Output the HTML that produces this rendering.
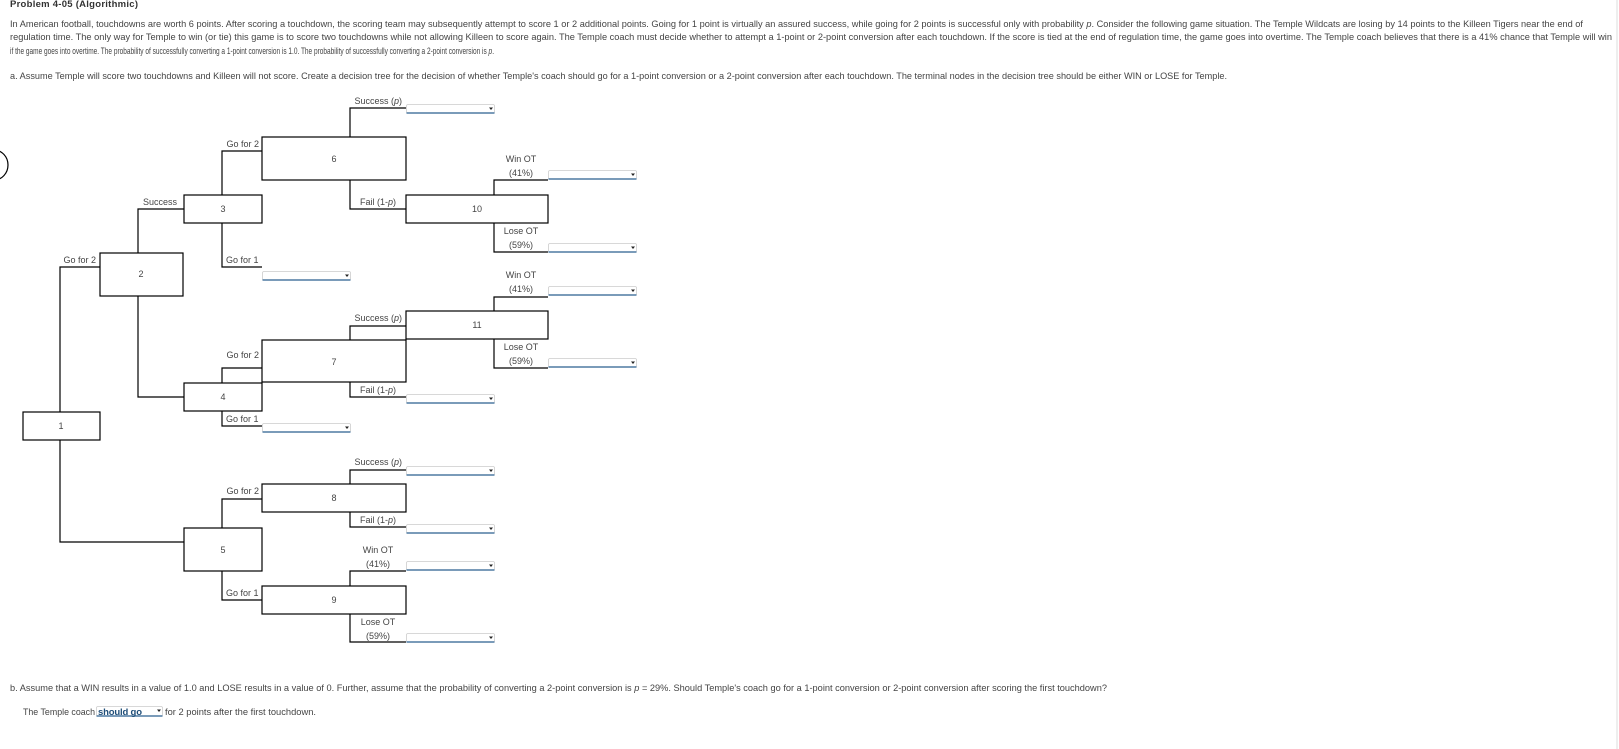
<!DOCTYPE html>
<html><head><meta charset="utf-8"><style>
html,body{margin:0;padding:0;background:#fff;}
svg{display:block;}
text{font-family:"Liberation Sans","DejaVu Sans",sans-serif;font-size:9px;fill:#444;}
.t{font-size:9.5px;}
.b{stroke:#000;stroke-width:1.2;fill:#fff;}
.l{stroke:#000;stroke-width:1.2;fill:none;}
</style></head><body>
<svg width="1619" height="749" viewBox="0 0 1619 749" xmlns="http://www.w3.org/2000/svg">
<defs>
<g id="dd">
<rect x="0.5" y="0.5" width="88" height="8.5" rx="1.5" fill="#fff" stroke="#ccc" stroke-width="0.8"/>
<line x1="0.5" y1="9" x2="88.5" y2="9" stroke="#2a5f8f" stroke-width="1.2"/>
<path d="M83,3.5 L87,3.5 L85,6 Z" fill="#222"/>
</g>
</defs>
<line x1="1617" y1="0" x2="1617" y2="749" stroke="#ddd" stroke-width="1"/>
<text x="10" y="7" class="t" style="font-weight:bold;fill:#333" textLength="128">Problem 4-05 (Algorithmic)</text>
<text class="t" x="10" y="27" textLength="1573" lengthAdjust="spacingAndGlyphs">In American football, touchdowns are worth 6 points. After scoring a touchdown, the scoring team may subsequently attempt to score 1 or 2 additional points. Going for 1 point is virtually an assured success, while going for 2 points is successful only with probability <tspan font-style="italic">p</tspan>. Consider the following game situation. The Temple Wildcats are losing by 14 points to the Killeen Tigers near the end of</text>
<text class="t" x="10" y="40" textLength="1602" lengthAdjust="spacingAndGlyphs">regulation time. The only way for Temple to win (or tie) this game is to score two touchdowns while not allowing Killeen to score again. The Temple coach must decide whether to attempt a 1-point or 2-point conversion after each touchdown. If the score is tied at the end of regulation time, the game goes into overtime. The Temple coach believes that there is a 41% chance that Temple will win</text>
<text class="t" x="10" y="54" textLength="484" lengthAdjust="spacingAndGlyphs">if the game goes into overtime. The probability of successfully converting a 1-point conversion is 1.0. The probability of successfully converting a 2-point conversion is <tspan font-style="italic">p</tspan>.</text>
<text class="t" x="10" y="79" textLength="1217" lengthAdjust="spacingAndGlyphs">a. Assume Temple will score two touchdowns and Killeen will not score. Create a decision tree for the decision of whether Temple's coach should go for a 1-point conversion or a 2-point conversion after each touchdown. The terminal nodes in the decision tree should be either WIN or LOSE for Temple.</text>

<path d="M0,150 A14,15 0 0 1 0,180" class="l" stroke="#222" transform="translate(-6,0)"/>

<path class="l" d="M60,412 V267 H100"/>
<path class="l" d="M60,440 V542 H184"/>
<path class="l" d="M138,253 V209 H184"/>
<path class="l" d="M138,296 V397 H184"/>
<path class="l" d="M222,195 V151 H262"/>
<path class="l" d="M222,223 V267 H262"/>
<path class="l" d="M222,383 V368 H262"/>
<path class="l" d="M222,411 V426 H262"/>
<path class="l" d="M222,528 V499 H262"/>
<path class="l" d="M222,571 V600 H262"/>
<path class="l" d="M350,137 V108 H406"/>
<path class="l" d="M350,180 V209 H406"/>
<path class="l" d="M350,340 V326 H406"/>
<path class="l" d="M350,382 V397 H406"/>
<path class="l" d="M350,484 V470 H406"/>
<path class="l" d="M350,512 V527 H406"/>
<path class="l" d="M350,586 V571 H406"/>
<path class="l" d="M350,614 V642 H406"/>
<path class="l" d="M494,195 V180 H548"/>
<path class="l" d="M494,223 V252 H548"/>
<path class="l" d="M494,311 V297 H548"/>
<path class="l" d="M494,339 V368 H548"/>

<rect class="b" x="23" y="412" width="77" height="28"/><text x="61" y="429" text-anchor="middle">1</text>
<rect class="b" x="100" y="253" width="83" height="43"/><text x="141" y="277" text-anchor="middle">2</text>
<rect class="b" x="184" y="195" width="78" height="28"/><text x="223" y="212" text-anchor="middle">3</text>
<rect class="b" x="184" y="383" width="78" height="28"/><text x="223" y="400" text-anchor="middle">4</text>
<rect class="b" x="184" y="528" width="78" height="43"/><text x="223" y="553" text-anchor="middle">5</text>
<rect class="b" x="262" y="137" width="144" height="43"/><text x="334" y="162" text-anchor="middle">6</text>
<rect class="b" x="262" y="340" width="144" height="42"/><text x="334" y="365" text-anchor="middle">7</text>
<rect class="b" x="262" y="484" width="144" height="28"/><text x="334" y="501" text-anchor="middle">8</text>
<rect class="b" x="262" y="586" width="144" height="28"/><text x="334" y="603" text-anchor="middle">9</text>
<rect class="b" x="406" y="195" width="142" height="28"/><text x="477" y="212" text-anchor="middle">10</text>
<rect class="b" x="406" y="311" width="142" height="28"/><text x="477" y="328" text-anchor="middle">11</text>

<text x="96" y="263" text-anchor="end">Go for 2</text>
<text x="177" y="205" text-anchor="end">Success</text>
<text x="259" y="147" text-anchor="end">Go for 2</text>
<text x="226" y="263">Go for 1</text>
<text x="259" y="358" text-anchor="end">Go for 2</text>
<text x="226" y="422">Go for 1</text>
<text x="259" y="494" text-anchor="end">Go for 2</text>
<text x="226" y="596">Go for 1</text>
<text x="402" y="104" text-anchor="end">Success (<tspan font-style="italic">p</tspan>)</text>
<text x="360" y="205">Fail (1-<tspan font-style="italic">p</tspan>)</text>
<text x="402" y="321" text-anchor="end">Success (<tspan font-style="italic">p</tspan>)</text>
<text x="360" y="393">Fail (1-<tspan font-style="italic">p</tspan>)</text>
<text x="402" y="465" text-anchor="end">Success (<tspan font-style="italic">p</tspan>)</text>
<text x="360" y="523">Fail (1-<tspan font-style="italic">p</tspan>)</text>
<text x="378" y="553" text-anchor="middle">Win OT</text>
<text x="378" y="567" text-anchor="middle">(41%)</text>
<text x="378" y="625" text-anchor="middle">Lose OT</text>
<text x="378" y="639" text-anchor="middle">(59%)</text>
<text x="521" y="162" text-anchor="middle">Win OT</text>
<text x="521" y="176" text-anchor="middle">(41%)</text>
<text x="521" y="234" text-anchor="middle">Lose OT</text>
<text x="521" y="248" text-anchor="middle">(59%)</text>
<text x="521" y="278" text-anchor="middle">Win OT</text>
<text x="521" y="292" text-anchor="middle">(41%)</text>
<text x="521" y="350" text-anchor="middle">Lose OT</text>
<text x="521" y="364" text-anchor="middle">(59%)</text>

<use href="#dd" x="406" y="104"/>
<use href="#dd" x="262" y="271"/>
<use href="#dd" x="262" y="423"/>
<use href="#dd" x="406" y="394"/>
<use href="#dd" x="406" y="466"/>
<use href="#dd" x="406" y="524"/>
<use href="#dd" x="406" y="561"/>
<use href="#dd" x="406" y="633"/>
<use href="#dd" x="548" y="170"/>
<use href="#dd" x="548" y="243"/>
<use href="#dd" x="548" y="286"/>
<use href="#dd" x="548" y="358"/>

<text class="t" x="10" y="691" textLength="1097" lengthAdjust="spacingAndGlyphs">b. Assume that a WIN results in a value of 1.0 and LOSE results in a value of 0. Further, assume that the probability of converting a 2-point conversion is <tspan font-style="italic">p</tspan> = 29%. Should Temple's coach go for a 1-point conversion or 2-point conversion after scoring the first touchdown?</text>
<text class="t" x="23" y="715" textLength="72" lengthAdjust="spacingAndGlyphs">The Temple coach</text>
<rect x="96.5" y="706.5" width="66" height="9.5" rx="1.5" fill="#fff" stroke="#ccc" stroke-width="0.8"/>
<line x1="96.5" y1="716" x2="162.5" y2="716" stroke="#2a5f8f" stroke-width="1.2"/>
<text class="t" x="98" y="715" style="font-weight:bold;fill:#1f4e79" textLength="44">should go</text>
<path d="M157,709.5 L161,709.5 L159,712 Z" fill="#222"/>
<text class="t" x="165" y="715" textLength="151" lengthAdjust="spacingAndGlyphs">for 2 points after the first touchdown.</text>
</svg>
</body></html>
